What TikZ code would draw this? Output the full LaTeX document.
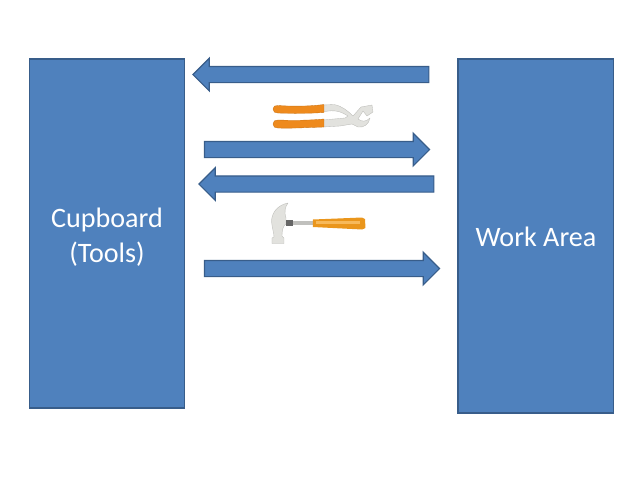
\documentclass[tikz,border=0pt]{standalone}
\usepackage{xcolor}
\definecolor{boxblue}{HTML}{4F81BD}
\definecolor{boxedge}{HTML}{385D8A}
\definecolor{grip}{HTML}{EE8A1D}
\definecolor{gripglass}{HTML}{F7B95A}
\definecolor{gripdark}{HTML}{EA961C}
\definecolor{steel}{HTML}{E2E2DE}
\definecolor{steeldark}{HTML}{BCBCB8}
\usepackage{fontspec}
\setmainfont{Carlito}
\usepackage{tikz}
\usetikzlibrary{shapes.arrows}
\begin{document}
\begin{tikzpicture}[
  x=0.2mm, y=-0.2mm,
  area/.style  = {rectangle, draw=boxedge, line width=0.7pt, fill=boxblue,
                  inner sep=0pt, minimum width=31.1mm},
  areatext/.style = {text=white, align=center, inner sep=0pt,
                  font=\fontsize{16}{20}\selectfont},
  flow/.style  = {single arrow, draw=boxedge, line width=0.7pt, fill=boxblue,
                  inner xsep=0pt, inner ysep=1.5mm, single arrow head extend=1.65mm,
                  single arrow tip angle=90, anchor=tail},
  toflow/.style   = {flow},
  backflow/.style = {flow, shape border rotate=180},
  gripshape/.style  = {fill=grip, draw=grip!85!black, line width=0.2pt, line join=round},
  steelshape/.style = {fill=steel, draw=steeldark, line width=0.2pt, line join=round},
]
\useasboundingbox (0,0) rectangle (638,478);
\node[area, minimum height=69.8mm] (cupboard) at (107,233.5) {};
\node[area, minimum height=70.8mm] (workarea) at (535.8,236) {};
\node[areatext] (cupboardtext) at (107,237.5) {Cupboard\\(Tools)};
\node[areatext] (workareatext) at (536,237) {Work Area};
\node[backflow, minimum height=47.2mm] (back1) at (429.5,74.5) {};
\node[toflow,   minimum height=45mm]   (to1)   at (204,149.5) {};
\node[backflow, minimum height=47mm]   (back2) at (434.5,184) {};
\node[toflow,   minimum height=47mm]   (to2)   at (204,268.5) {};
% pliers
\fill[steelshape] (323,105) -- (334,104.5) .. controls (342,106) and (348,111) .. (353,116)
  -- (361,107) -- (372,105) -- (373,112) -- (367,116) -- (363,111) -- (358,119) .. controls (362,122) and (366,122) .. (370,118)
  .. controls (369,124) and (364,128) .. (358,127) -- (352,124) -- (340,126) -- (323,127) -- (323,120)
  -- (345,118) -- (348,116) .. controls (342,112) and (335,109) .. (323,112) -- cycle;
\path[gripshape] (273,109) .. controls (273,106) and (275,105.5) .. (278,105.5)
  .. controls (292,106.5) and (308,106.5) .. (324,104.5) -- (324,112.5) .. controls (308,113.5) and (292,113.5) .. (278,113)
  .. controls (275,113) and (273,112) .. (273,109) -- cycle;
\path[gripshape] (273,124) .. controls (273,121) and (275,120) .. (278,120)
  .. controls (292,120.5) and (308,120.5) .. (324,119) -- (324,127) .. controls (308,127.5) and (292,128.5) .. (278,128)
  .. controls (275,128) and (273,127) .. (273,124) -- cycle;
% hammer
\fill[steelshape] (288,203) .. controls (278,205) and (272,212) .. (271.5,221)
  .. controls (272,228) and (274,233) .. (274,237) -- (272,238) -- (272,243.5) -- (284,243.5) -- (284,238) -- (282,236)
  .. controls (282,230) and (283,226) .. (286,224) -- (286,218) .. controls (284,212) and (285,207) .. (288,203) -- cycle;
\fill[black!60] (286,220) rectangle (293,226);
\fill[steel!85!black] (293,221) rectangle (314,224.5);
\path[fill=gripdark, line join=round] (313,219.5) -- (362,217.5) -- (365,219) -- (365.5,228) -- (362,229.5) -- (313,227) -- cycle;
\fill[gripglass] (316,220.5) rectangle (360,224);
\end{tikzpicture}
\end{document}
